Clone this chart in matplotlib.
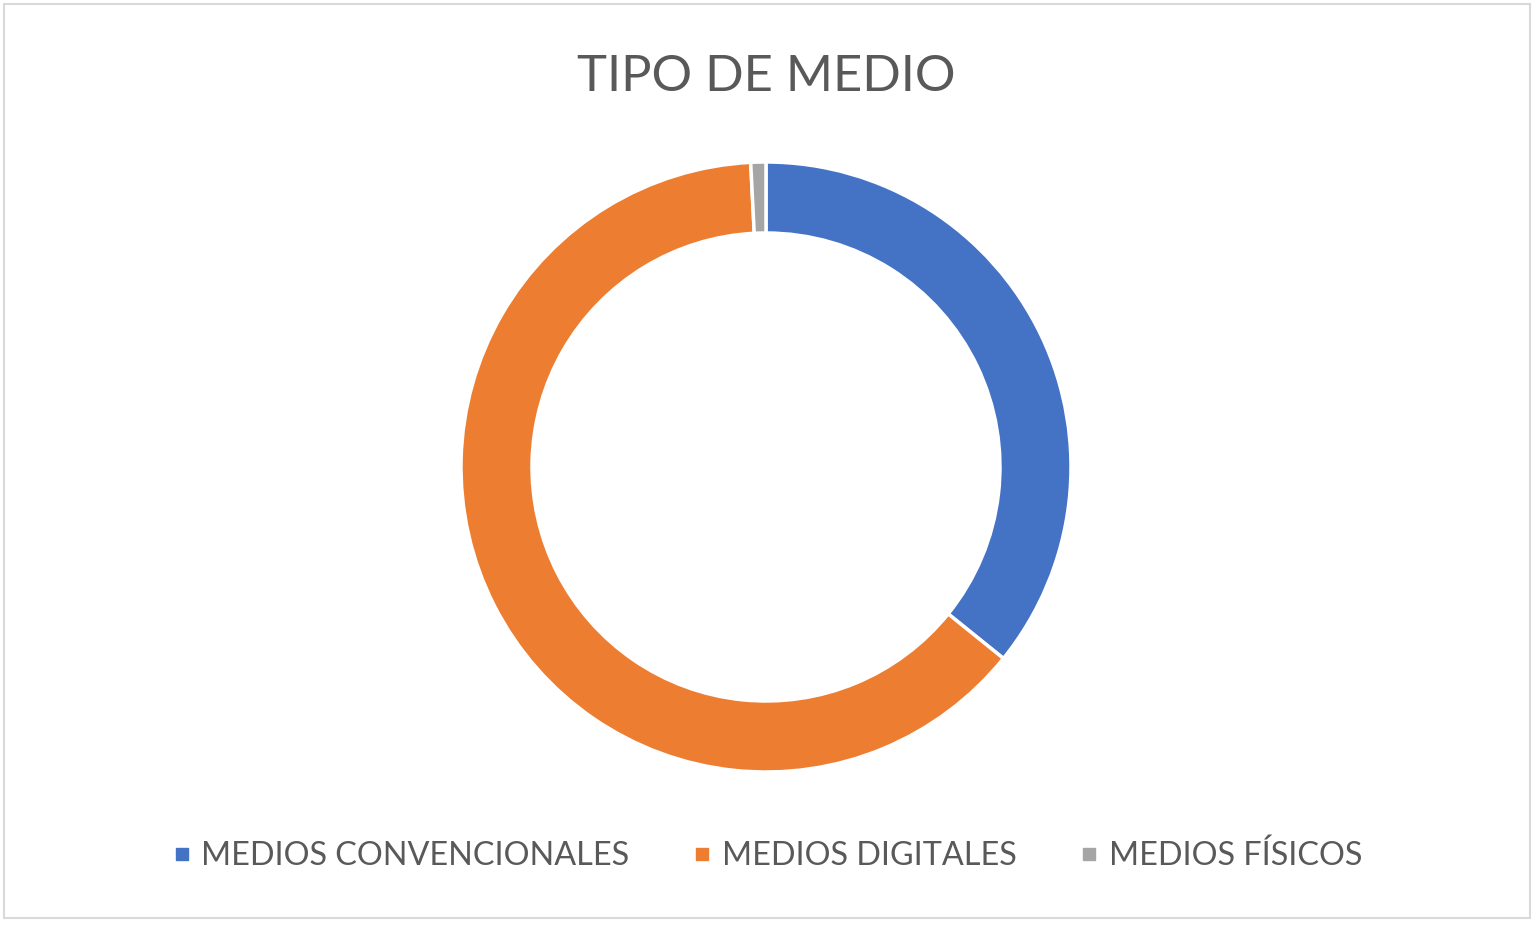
import matplotlib.pyplot as plt
from matplotlib.lines import Line2D
from matplotlib.patches import Rectangle

# datos del grafico (porcentajes)
categorias = ['MEDIOS CONVENCIONALES', 'MEDIOS DIGITALES', 'MEDIOS FÍSICOS']
valores = [35.8, 63.4, 0.8]
colores = ['#4472C4', '#ED7D31', '#A5A5A5']

W, H = 1536, 926
fig = plt.figure(figsize=(W / 100, H / 100), dpi=100)
fig.patch.set_facecolor('white')

# borde del area del grafico
fig.add_artist(Rectangle((4 / W, 8 / H), 1526 / W, 914 / H, transform=fig.transFigure,
                         fill=False, edgecolor='#D9D9D9', linewidth=1.5))

# anillo
cx, cy, r = 766, 467, 305
lado = 330
ax = fig.add_axes([(cx - lado) / W, (H - cy - lado) / H, 2 * lado / W, 2 * lado / H])
ax.pie(valores, colors=colores, startangle=90, counterclock=False, radius=1,
       wedgeprops=dict(width=71 / r, edgecolor='white', linewidth=2.5))
ax.set_xlim(-lado / r, lado / r)
ax.set_ylim(-lado / r, lado / r)
ax.set_aspect('equal')
ax.axis('off')

fig.text(cx / W, (H - 77) / H, 'TIPO DE MEDIO', ha='center', va='center',
         fontsize=36.5, color='#595959', family='Lato')

handles = [Line2D([], [], marker='s', linestyle='', markersize=9, color=c) for c in colores]
leg = fig.legend(handles, categorias, loc='center', bbox_to_anchor=(0.5, (H - 856) / H),
                 ncol=3, frameon=False, handlelength=0.5, handletextpad=0.35,
                 columnspacing=2.0, prop={'family': 'Lato', 'size': 23.3})
for t in leg.get_texts():
    t.set_color('#595959')

fig.savefig('out.png', dpi=100)
